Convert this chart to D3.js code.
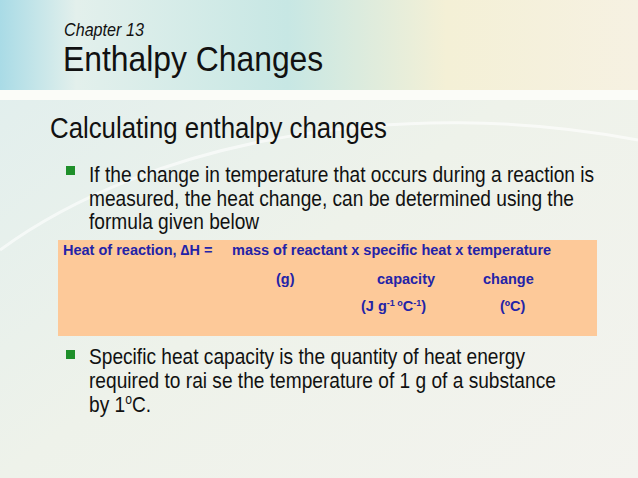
<!DOCTYPE html>
<html><head><meta charset="utf-8">
<script src="https://cdn.jsdelivr.net/npm/d3@7"></script>
<style>body{margin:0;overflow:hidden}</style></head>
<body><script>
const titleLines = ["Chapter 13", "Enthalpy Changes"];
const heading = "Calculating enthalpy changes";
const bullet1 = ["If the change in temperature that occurs during a reaction is", "measured, the heat change, can be determined using the", "formula given below"];
const bullet2 = ["Specific heat capacity is the quantity of heat energy", "required to rai se the temperature of 1 g of a substance", "by 1"];
const W = 638, H = 478, F = "'Liberation Sans',Arial,sans-serif";
const svg = d3.select("body").append("svg").attr("width", W).attr("height", H);
const defs = svg.append("defs");
const g1 = defs.append("linearGradient").attr("id","bg").attr("x1",0).attr("y1",0).attr("x2",1).attr("y2",1);
[[0,"#dfeeee"],[0.5,"#eef2ea"],[1,"#f3f3ee"]].forEach(s=>g1.append("stop").attr("offset",s[0]).attr("stop-color",s[1]));
const g2 = defs.append("linearGradient").attr("id","top").attr("x1",0).attr("y1",0).attr("x2",1).attr("y2",0);
[[0,"#a9dbe6"],[0.12,"#e3f0ec"],[0.45,"#c7e7e4"],[0.7,"#f4f0d6"],[1,"#f6f1e2"]].forEach(s=>g2.append("stop").attr("offset",s[0]).attr("stop-color",s[1]));
svg.append("rect").attr("width",W).attr("height",H).attr("fill","url(#bg)");
svg.append("rect").attr("width",W).attr("height",92).attr("fill","url(#top)");
svg.append("rect").attr("y",90).attr("width",W).attr("height",10).attr("fill","#fbfcf8");
svg.append("path").attr("d","M0,250 C150,140 400,95 638,140").attr("fill","none").attr("stroke","#ffffff").attr("stroke-opacity",0.6).attr("stroke-width",3);
const t = (x,y,s,size,opt={}) => svg.append("text").attr("transform",`translate(${x},${y}) scale(${opt.sx||1},1)`).attr("font-family",F)
  .attr("font-size",size).attr("fill",opt.fill||"#111").attr("font-style",opt.italic?"italic":null)
  .attr("font-weight",opt.bold?"bold":null).text(s);
t(64,36,titleLines[0],19,{italic:true,sx:0.85});
t(63,71,titleLines[1],35,{sx:0.91});
t(50,138,heading,29,{sx:0.89});
const bx = d3.scaleLinear().domain([0,2]).range([182,229]);
svg.append("rect").attr("x",66).attr("y",166).attr("width",9).attr("height",9).attr("fill","#1e8f2a");
bullet1.forEach((s,i)=>t(89,bx(i),s,22,{sx:0.87}));
svg.append("rect").attr("x",58).attr("y",240).attr("width",539).attr("height",96).attr("fill","#fdc999");
const blue="#2323a8";
const boxText = [[63,255,"Heat of reaction,  ∆H ="],[232,255,"mass of reactant x specific heat x temperature"],[276,284,"(g)"],[377,284,"capacity"],[483,284,"change"],[500,311,"(ºC)"]];
boxText.forEach(d=>t(d[0],d[1],d[2],14.5,{bold:true,fill:blue}));
const u = t(361,311,"",14.5,{bold:true,fill:blue});
u.append("tspan").text("(J g");
u.append("tspan").attr("dy",-5).attr("font-size",9).text("-1 o");
u.append("tspan").attr("dy",5).text("C");
u.append("tspan").attr("dy",-5).attr("font-size",9).text("-1");
u.append("tspan").attr("dy",5).text(")");
svg.append("rect").attr("x",66).attr("y",350).attr("width",9).attr("height",9).attr("fill","#1e8f2a");
const by = d3.scaleLinear().domain([0,2]).range([364,412]);
bullet2.forEach((s,i)=>{const e=t(89,by(i),s,22,{sx:0.87}); if(i===2){e.append("tspan").attr("dy",-8).attr("font-size",14).text("o");e.append("tspan").attr("dy",8).text("C.");}});
</script></body></html>
